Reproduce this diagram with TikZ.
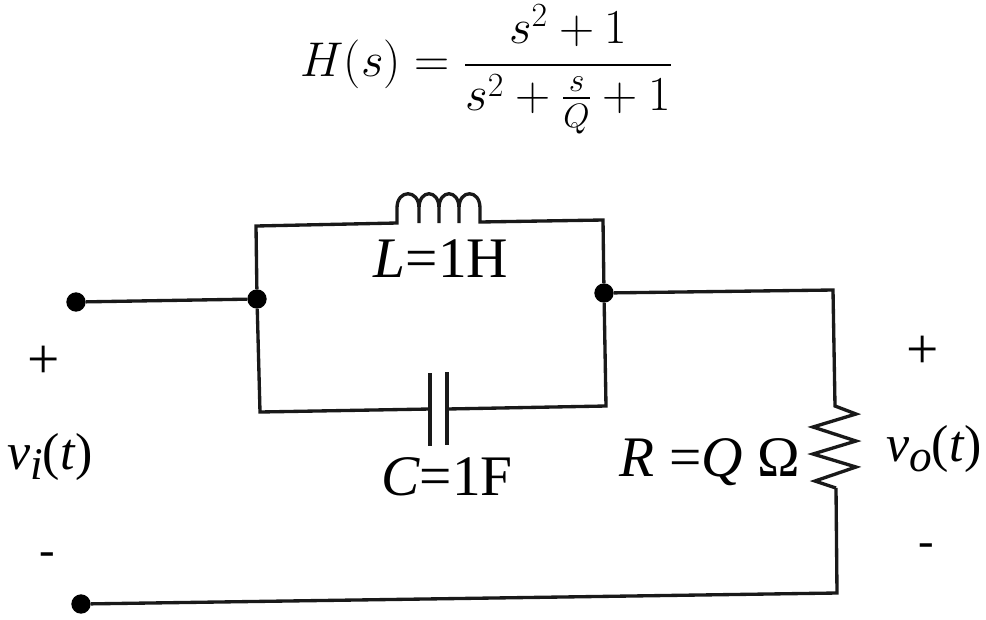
\documentclass[tikz,border=0pt]{standalone}
\usepackage{amsmath}
\usepackage{fontspec}
\newfontfamily\timesf{Liberation Serif}
\tikzset{
  wire/.style={draw=black!90,line width=2.5pt,line join=miter},
  dotnode/.style={circle,fill=black,inner sep=0pt,minimum size=14.5pt},
  lab/.style={inner sep=0pt,font=\timesf\fontsize{43}{43}\selectfont,text=black},
  vlab/.style={inner sep=0pt,font=\timesf\fontsize{39}{39}\selectfont,text=black},
  sign/.style={inner sep=0pt,font=\timesf\fontsize{35}{35}\selectfont,text=black},
}
\begin{document}
\begin{tikzpicture}[x=0.75pt,y=-0.75pt]
\useasboundingbox (0,0) rectangle (986,619);
\node[inner sep=0pt,scale=1.47,transform shape] (formula) at (487,69) {\fontsize{26}{30}\selectfont $\displaystyle H(s)=\frac{s^2+1}{s^2+\frac{s}{Q}+1}$};
% junctions and terminals
\node[dotnode] (inT) at (76,302) {};
\node[dotnode] (jL) at (257,299) {};
\node[dotnode] (jR) at (604,293) {};
\node[dotnode] (inB) at (81,604) {};
% corner and component coordinates
\coordinate (tl) at (256,226);
\coordinate (tr) at (603,220);
\coordinate (bl) at (260,412);
\coordinate (br) at (606,406);
\coordinate (capL) at (430,409);
\coordinate (capR) at (447,409);
\coordinate (capLt) at (430,373);
\coordinate (capLb) at (430,446);
\coordinate (capRt) at (447,372);
\coordinate (capRb) at (447,445);
\coordinate (rtr) at (833,290);
\coordinate (rtop) at (835,406);
\coordinate (rbot) at (836,488);
\coordinate (brr) at (837,593);
% input
\draw[wire] (inT) -- (jL);
\draw[wire] (inB) -- (brr) -- (rbot);
% inductor branch
\draw[wire] (jL) -- (tl) -- (397,223)
  -- (397,208) .. controls (397,189) and (419,189) .. (419,208) -- (419,223)
  (419,208) .. controls (419,189) and (439,189) .. (439,208) -- (439,223)
  (439,208) .. controls (439,189) and (459,189) .. (459,208) -- (459,223)
  (459,208) .. controls (459,189) and (480,189) .. (480,208) -- (480,222) -- (tr) -- (jR);
% capacitor branch
\draw[wire] (jL) -- (bl) -- (capL);
\draw[wire] (capR) -- (br) -- (jR);
\draw[wire] (capLt) -- (capLb);
\draw[wire] (capRt) -- (capRb);
% resistor
\draw[wire] (jR) -- (rtr) -- (rtop) -- (856,414) -- (813,427) -- (856,441) -- (813,454) -- (856,467) -- (815,481) -- (rbot);
% labels
\node[lab,anchor=base] (lL) at (441,277) {\textit{L}=1H};
\node[lab,anchor=base] (lC) at (447,495) {\textit{C}=1F};
\node[lab,anchor=base] (lR) at (710,476) {\textit{R} =\textit{Q} Ω};
\node[vlab,anchor=base] (vi) at (50,469) {\textit{v}\raisebox{-8pt}{\textit{\fontsize{34}{34}\selectfont i}}(\textit{t})};
\node[vlab,anchor=base] (vo) at (934,461) {\textit{v}\raisebox{-8pt}{\textit{\fontsize{34}{34}\selectfont o}}(\textit{t})};
\node[lab,anchor=base] (pl) at (44,378) {+};
\node[sign,anchor=base] (mi) at (47,565) {-};
\node[lab,anchor=base] (pr) at (923,368) {+};
\node[sign,anchor=base] (mr) at (926,556) {-};
\end{tikzpicture}
\end{document}
